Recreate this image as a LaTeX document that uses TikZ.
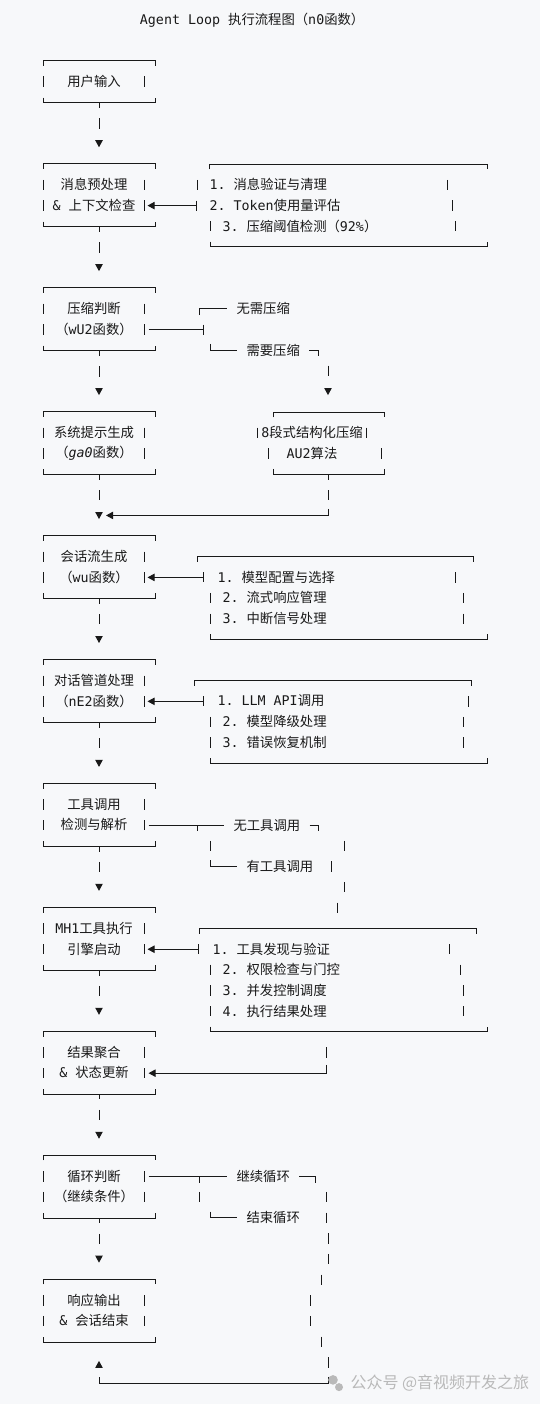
\documentclass[tikz,border=0pt]{standalone}
\usepackage{fontspec}
\setmainfont{DejaVu Sans Mono}
\newfontfamily\cjk{Noto Sans CJK SC}
\usetikzlibrary{arrows.meta, calc}
\frenchspacing
\newcommand{\zh}[1]{{\cjk #1}}
\newcommand{\rowstrut}{\vrule height 8.8pt depth 1.2pt width 0pt}
\definecolor{bgpaper}{RGB}{247,248,250}
\definecolor{ink}{RGB}{25,25,25}
\definecolor{wmgray}{RGB}{185,185,185}

\begin{document}
\begin{tikzpicture}[x=0.75pt, y=-15.492pt, line width=0.75pt, color=ink,
    font=\fontsize{10}{15.5}\selectfont,
    stepbox/.style={minimum width=75pt, minimum height=46.48pt, inner sep=0pt, align=center,
      execute at begin node=\rowstrut, execute at end node=\rowstrut},
    notebox/.style={anchor=west, inner sep=0pt, align=left,
      execute at begin node=\rowstrut, execute at end node=\rowstrut},
    branchlbl/.style={anchor=west, inner xsep=6.75pt, inner ysep=0pt, text height=8.8pt, text depth=1.2pt},
    flowdown/.style={dash pattern=on 3.87pt off 7.75pt on 7.75pt off 40pt,
      -{Triangle[length=5.25pt, width=5.5pt]}, shorten >=12.4pt},
    flowgap/.style={flowdown, dash pattern=on 0pt off 11.62pt on 7.75pt off 40pt},
    joinflow/.style={dash pattern=on 3.87pt off 7.75pt on 7.75pt off 6.4pt on 300pt,
      -{Triangle[length=5.25pt, width=5.5pt]}},
    backflow/.style={dash pattern=on 181pt off 50pt,
      -{Triangle[length=5.25pt, width=5.5pt]}, shorten >=14pt},
    noteto/.style={{Bar[width=7.5pt]}-{Triangle[length=5.25pt, width=5.5pt]}, shorten >=2.25pt}]

  \useasboundingbox (0,-0.9532) rectangle (540,67.017);
  \fill[bgpaper] (0,-0.9532) rectangle (540,67.017); % paper

  \node[anchor=west, text height=8.8pt, text depth=1.2pt] (title) at (135,0)
    {Agent Loop \zh{执行流程图（}n0\zh{函数）}};

  % main column
  \node[stepbox, minimum height=30.98pt] (input) at (94,3) {\zh{用户输入}};
  \node[stepbox] (prep) at (94,8.5) {\zh{消息预处理}\\\& \zh{上下文检查}};
  \node[stepbox] (compress) at (94,14.5) {\zh{压缩判断}\\\zh{（}wU2\zh{函数）}};
  \node[stepbox] (sysprompt) at (94,20.5) {\zh{系统提示生成}\\\zh{（}\textit{ga0}\zh{函数）}};
  \node[stepbox] (stream) at (94,26.5) {\zh{会话流生成}\\\zh{（}wu\zh{函数）}};
  \node[stepbox] (pipe) at (94,32.5) {\zh{对话管道处理}\\\zh{（}nE2\zh{函数）}};
  \node[stepbox] (detect) at (94,38.5) {\zh{工具调用}\\\zh{检测与解析}};
  \node[stepbox] (mh1) at (94,44.5) {MH1\zh{工具执行}\\\zh{引擎启动}};
  \node[stepbox] (merge) at (94,50.5) {\zh{结果聚合}\\\& \zh{状态更新}};
  \node[stepbox] (loopchk) at (94,56.5) {\zh{循环判断}\\\zh{（继续条件）}};
  \node[stepbox] (output) at (94,62.5) {\zh{响应输出}\\\& \zh{会话结束}};

  \foreach \p/\k in {input/0, prep/1, compress/1, sysprompt/1, stream/1, pipe/1,
                     detect/1, mh1/1, merge/1, loopchk/1, output/1} {
    \draw ([yshift=-3.87pt]\p.north west) -- (\p.north west) -- ([xshift=8.25pt]\p.north east) -- ++(0,0.25);
    \draw ([yshift=3.87pt]\p.south west) -- (\p.south west) -- ([xshift=8.25pt]\p.south east) -- ++(0,-0.25);
    \foreach \s in {-1,1} {
      \draw ([yshift=\s*\k*7.75pt]\p.west) ++(0,-0.25) -- ++(0,0.5);
      \draw ([yshift=\s*\k*7.75pt]\p.east) ++(0,-0.25) -- ++(0,0.5);
    }
  }

  \coordinate (spine) at (99,0);
  \foreach \p/\q in {input/prep, prep/compress, compress/sysprompt, sysprompt/stream,
                     stream/pipe, pipe/detect, detect/mh1, mh1/merge, merge/loopchk, loopchk/output}
    \draw[flowdown] (\p.south -| spine) -- (\q.north -| spine);

  % detail notes
  \node[notebox] (prepnote) at (209,9)
    {1. \zh{消息验证与清理}\\2. Token\zh{使用量评估}\\\hspace*{9.75pt}3. \zh{压缩阈值检测（}92\%\zh{）}};
  \node[notebox] (streamnote) at (217,28)
    {1. \zh{模型配置与选择}\\\hspace*{3.75pt}2. \zh{流式响应管理}\\\hspace*{3.75pt}3. \zh{中断信号处理}};
  \node[notebox] (pipenote) at (217,34)
    {1. LLM API\zh{调用}\\\hspace*{3.75pt}2. \zh{模型降级处理}\\\hspace*{3.75pt}3. \zh{错误恢复机制}};
  \node[notebox] (mh1note) at (212,46.5)
    {1. \zh{工具发现与验证}\\\hspace*{7.5pt}2. \zh{权限检查与门控}\\\hspace*{7.5pt}3. \zh{并发控制调度}\\\hspace*{7.5pt}4. \zh{执行结果处理}};

  \foreach \tx/\ta/\te/\rb in {209/7/487/11, 197/26/473/30, 194/32/471/36, 199/44/476/49} {
    \draw (\tx,\ta+0.25) -- (\tx,\ta) -- (\te,\ta) -- (\te,\ta+0.25);
    \draw (210,\rb-0.25) -- (210,\rb) -- (487,\rb) -- (487,\rb-0.25);
  }

  \coordinate (prepjoint) at (197,9);
  \coordinate (streamjoint) at (204,27);
  \coordinate (pipejoint) at (204,33);
  \coordinate (mh1joint) at (199,45);
  \draw[noteto] (prepjoint) -- (prep.east |- prepjoint);
  \draw[noteto] (streamjoint) -- (stream.east |- streamjoint);
  \draw[noteto] (pipejoint) -- (pipe.east |- pipejoint);
  \draw[noteto] (mh1joint) -- (mh1.east |- mh1joint);

  % compression branch
  \coordinate (split) at (204,15);
  \draw[-{Bar[width=7.5pt]}, shorten <=3pt] (compress.east |- split) -- (split);
  \node[branchlbl] (nocomp) at (227,14) {\zh{无需压缩}};
  \node[branchlbl] (needcomp) at (237,16) {\zh{需要压缩}};
  \draw (199,14.3) |- (nocomp.west);
  \draw (210,15.7) |- (needcomp.west);
  \draw (needcomp.east) -| (318,16.3);

  \coordinate (cx) at (328,0);
  \node[stepbox, minimum width=0pt] (au2) at (312,20.5) {8\zh{段式结构化压缩}\\AU2\zh{算法}};
  \draw (273,19.25) -- (273,19) -- (384,19) -- (384,19.25);
  \draw (273,21.75) -- (273,22) -- (384,22) -- (384,21.75);
  \draw[flowgap] (needcomp -| cx) -- (au2.north -| cx);
  \coordinate (join) at (106,24);
  \draw[joinflow] (au2.south -| cx) |- (join);

  % tool branch
  \node[branchlbl] (notool) at (224,39) {\zh{无工具调用}};
  \node[branchlbl] (hastool) at (237,41) {\zh{有工具调用}};
  \draw[shorten <=3pt] (detect.east |- notool) -- (notool.west);
  \draw (197,39) -- (197,39.3);
  \draw (210,40.7) |- (hastool.west);
  \draw (notool.east) -| (318,39.3);
  \coordinate (toolback) at (326,50.6);
  \draw[-{Triangle[length=5.25pt, width=5.5pt]}, shorten >=3pt] (toolback) |- ([yshift=-7.75pt]merge.east);

  % loop branch
  \node[branchlbl] (cont) at (227,56) {\zh{继续循环}};
  \node[branchlbl] (stop) at (237,58) {\zh{结束循环}};
  \draw[shorten <=3pt] (loopchk.east |- cont) -- (cont.west);
  \draw (199,56) -- (199,56.3);
  \draw (210,57.7) |- (stop.west);
  \draw (cont.east) -| (315,56.3);
  \coordinate (loopback) at (328,65.7);
  \coordinate (loopfoot) at (99,66);
  \draw[backflow] (loopback) |- (loopfoot) -- (output.south -| spine);

  % broken bars
  \foreach \x/\r in {197/8, 447/8, 452/9, 210/10, 455/10, 455/27, 210/28, 463/28, 210/29, 463/29,
                     468/33, 210/34, 463/34, 210/35, 463/35, 449/45, 210/46, 460/46, 210/47, 463/47,
                     210/48, 463/48, 257/20, 366/20, 268/21, 381/21, 210/40, 344/40, 331/41, 344/42,
                     337/43, 326/50, 199/57, 326/57, 326/58, 328/59, 328/60, 321/61, 310/62, 310/63,
                     321/64, 328/65}
    \draw (\x,\r-0.25) -- (\x,\r+0.25);

  % watermark
  \fill[wmgray] (333,65.85) circle (3.6pt);
  \fill[wmgray] (339,66.2) circle (3pt);
  \node[anchor=west, text=wmgray, inner sep=0pt, font=\cjk\fontsize{12}{12}\selectfont] (mark) at (350,66)
    {公众号 @音视频开发之旅};
\end{tikzpicture}
\end{document}
